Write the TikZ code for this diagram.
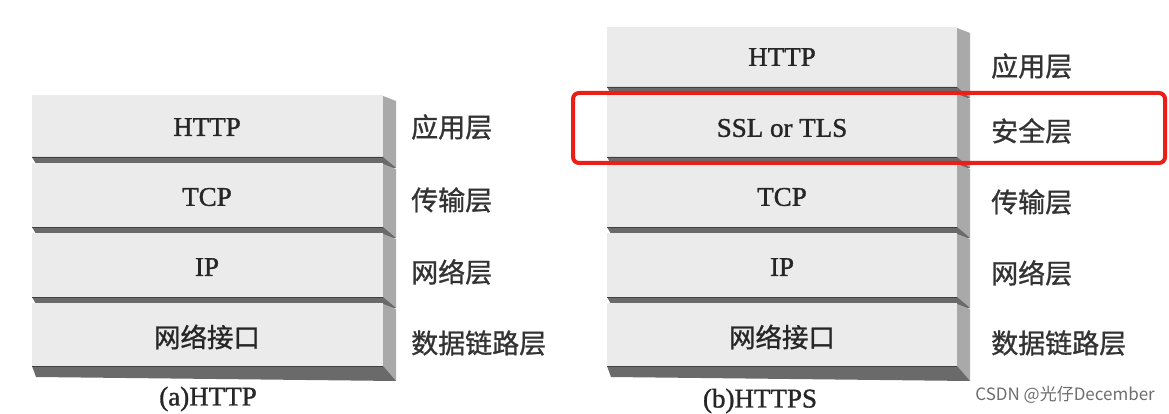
\documentclass[tikz,border=0pt]{standalone}
\usepackage{fontspec}
\setmainfont{Liberation Serif}
\newfontfamily\boxfont[FakeBold=1.2]{Liberation Serif}
\newfontfamily\cjk[FakeBold=1.0]{Noto Sans CJK SC}
\newfontfamily\wmfont{Noto Sans CJK SC}
\definecolor{faceC}{HTML}{EBEBEB}
\definecolor{sideC}{HTML}{A9A9A9}
\definecolor{stripC}{HTML}{6A6A6A}
\definecolor{txtC}{HTML}{262626}
\definecolor{lblC}{HTML}{333333}
\definecolor{redC}{HTML}{EA1F17}
\definecolor{wmC}{HTML}{6E6E6E}
\tikzset{
  boxtext/.style={text=txtC, font=\boxfont\fontsize{27}{30}\selectfont, inner sep=0pt},
  boxcjk/.style={text=txtC, font=\cjk\fontsize{26.5}{30}\selectfont, inner sep=0pt},
  layerlbl/.style={text=lblC, font=\cjk\fontsize{27}{30}\selectfont, anchor=west, inner sep=0pt},
  caption/.style={text=txtC, font=\boxfont\fontsize{27}{30}\selectfont, inner sep=0pt},
}
% #1 x0, #2 x1, #3 ytop, #4 ystrip, #5 strip height
\newcommand\myslab[5]{%
  \fill[faceC] (#1,#3) rectangle (#2,#4);
  \fill[sideC] (#2,#3+1) -- (#2+13,#3+6) -- (#2+13,#4+#5+4) -- (#2,#4+#5) -- cycle;
  \fill[stripC] (#1,#4) -- (#2,#4) -- (#2+13,#4+#5+4) -- (#1+4,#4+#5) -- cycle;
  \draw[black!75, line width=0.8pt] (#1,#4) -- (#2,#4);
}
\begin{document}
\begin{tikzpicture}[x=1pt,y=-1pt]
\path[use as bounding box, fill=white] (0,0) rectangle (1169,414);
% left stack
\myslab{32}{383}{95}{157}{7}
\myslab{32}{383}{163}{227}{7}
\myslab{32}{383}{233}{297}{7}
\myslab{32}{383}{303}{366}{11}
\node[boxtext] (lhttp) at (207,127) {HTTP};
\node[boxtext] (ltcp) at (207,197) {TCP};
\node[boxtext] (lip) at (207,267) {IP};
\node[boxcjk] (lnif) at (207,337) {网络接口};
\node[layerlbl] (lapp) at (411,127) {应用层};
\node[layerlbl] (ltrans) at (411,200) {传输层};
\node[layerlbl] (lnet) at (411,272) {网络层};
\node[layerlbl] (llink) at (411,343) {数据链路层};
\node[caption] (capa) at (208,399) {(a)HTTP};
% right stack
\myslab{607}{957}{27}{87}{7}
\myslab{607}{957}{93}{157}{7}
\myslab{607}{957}{163}{227}{7}
\myslab{607}{957}{233}{297}{7}
\myslab{607}{957}{303}{366}{11}
\node[boxtext] (rhttp) at (782,57) {HTTP};
\node[boxtext] (rssl) at (782,128) {SSL or TLS};
\node[boxtext] (rtcp) at (782,197) {TCP};
\node[boxtext] (rip) at (782,267) {IP};
\node[boxcjk] (rnif) at (782,337) {网络接口};
\node[layerlbl] (rapp) at (991,66) {应用层};
\node[layerlbl] (rsec) at (991,131) {安全层};
\node[layerlbl] (rtrans) at (991,202) {传输层};
\node[layerlbl] (rnet) at (991,273) {网络层};
\node[layerlbl] (rlink) at (991,343) {数据链路层};
\node[caption] (capb) at (760,401) {(b)HTTPS};
% highlight
\draw[redC, line width=4pt, rounded corners=6pt] (573,93) rectangle (1165,163);
% watermark
\node[anchor=east, inner sep=0pt, text=wmC, font=\wmfont\fontsize{17}{20}\selectfont] (wm) at (1155,395) {CSDN @光仔December};
\end{tikzpicture}
\end{document}
